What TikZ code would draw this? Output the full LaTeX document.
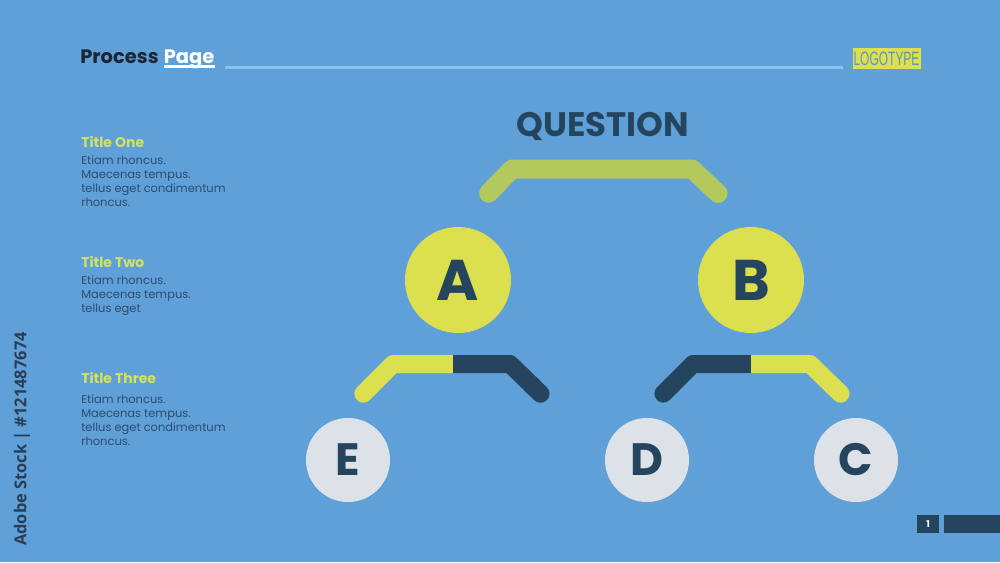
\documentclass[tikz,border=0pt]{standalone}
\usepackage{fontspec}
\setmainfont{Poppins}
\newfontfamily\logofont[FakeStretch=0.62]{Liberation Sans}
\newfontfamily\stockfont{Open Sans}
\usepackage[dvipsnames]{xcolor}
\usetikzlibrary{arrows.meta, shapes}
\definecolor{bgblue}{HTML}{5FA0D8}
\definecolor{navy}{HTML}{25455F}
\definecolor{lime}{HTML}{DCE04F}
\definecolor{olive}{HTML}{B3C95B}
\definecolor{pale}{HTML}{DCE2E7}
\definecolor{titlelime}{HTML}{D6E35A}
\definecolor{bodyblue}{HTML}{2B4D72}
\definecolor{ruleblue}{HTML}{8CC2EE}
\definecolor{inkdark}{HTML}{1B2533}
\definecolor{logoink}{HTML}{5B95C4}
\tikzstyle{answer} = [circle, fill=lime, minimum size=79.5pt, inner sep=0pt, text=navy, font=\fontsize{43}{43}\selectfont\bfseries]
\tikzstyle{leaf} = [circle, fill=pale, minimum size=63pt, inner sep=0pt, text=navy, font=\fontsize{34}{34}\selectfont\bfseries]
\tikzstyle{bar} = [line width=13.5pt, line join=round, {Round Cap}-]
\tikzstyle{title} = [anchor=base west, inner sep=0pt, text=titlelime, font=\fontsize{10.5}{12}\selectfont\bfseries]
\tikzstyle{body} = [anchor=base west, inner sep=0pt, align=left, text=bodyblue, font=\fontsize{8.6}{10.3}\selectfont]

\begin{document}
\begin{tikzpicture}[x=0.75pt, y=0.75pt, yscale=-1]

\fill[bgblue] (0,0) rectangle (1000,562);
\useasboundingbox (0,0) rectangle (1000,562);

% header
\node at (80, 63) (process) [anchor=base west, inner sep=0pt, text=inkdark, font=\fontsize{14.6}{14.6}\selectfont\bfseries] {Process};
\node at ([xshift=3.5pt]process.base east) (page) [anchor=base west, inner sep=0pt, text=white, font=\fontsize{14.6}{14.6}\selectfont\bfseries] {Page};
\draw [white, line width=2pt] ([yshift=2.5pt]page.base west) -- ([yshift=2.5pt]page.base east);
\draw [ruleblue, line width=2.25pt] (225, 67) -- (843, 67);
\node at (886.5, 58.5) (logo) [fill=lime, minimum width=51pt, minimum height=15.75pt, inner sep=0pt, text=logoink, font=\logofont\fontsize{14.5}{14.5}\selectfont] {LOGOTYPE};

% side texts (body nodes sit on their last baseline)
\node at (81, 147) (title1) [title] {Title One};
\node at (81, 206) (text1) [body] {Etiam rhoncus.\\Maecenas tempus.\\tellus eget condimentum\\rhoncus.};
\node at (81, 267) (title2) [title] {Title Two};
\node at (81, 312) (text2) [body] {Etiam rhoncus.\\Maecenas tempus.\\tellus eget};
\node at (81, 383) (title3) [title] {Title Three};
\node at (81, 445) (text3) [body] {Etiam rhoncus.\\Maecenas tempus.\\tellus eget condimentum\\rhoncus.};

% tree
\node at (603, 126) (question) [text=navy, font=\fontsize{25.5}{25.5}\selectfont\bfseries] {QUESTION};

\node at (458, 280) (A) [answer] {A};
\node at (751, 280) (B) [answer] {B};

\node at (348, 460) (E) [leaf] {E};
\node at (647, 460) (D) [leaf] {D};
\node at (856, 460) (C) [leaf] {C};

\coordinate (qa) at (482, 200);
\coordinate (qb) at (725, 200);
\coordinate (ae) at (357, 400);
\coordinate (aa) at (547, 400);
\coordinate (bd) at (657, 400);
\coordinate (bc) at (847, 400);
\coordinate (asplit) at (453, 364);
\coordinate (bsplit) at (751, 364);

\draw [bar, olive, line width=14.25pt, {Round Cap}-{Round Cap}] (qa) -- (512, 169) -- (692, 169) -- (qb);

\draw [bar, lime] (ae) -- (393, 364) -- (asplit);
\draw [bar, navy] (aa) -- (510, 364) -- (asplit);
\draw [bar, navy] (bd) -- (693, 364) -- (bsplit);
\draw [bar, lime] (bc) -- (810, 364) -- (bsplit);

% footer
\node at (928, 524) (pagenum) [fill=navy, minimum width=16.5pt, minimum height=13.5pt, inner sep=0pt, text=white, font=\fontsize{7}{7}\selectfont\bfseries] {1};
\fill[navy] (944, 515) rectangle (1000, 533);

\node at (22, 439) (stock) [rotate=90, inner sep=0pt, text=inkdark!80!bgblue, font=\stockfont\fontsize{12.3}{12.3}\selectfont\bfseries] {Adobe Stock | \#121487674};

\end{tikzpicture}
\end{document}
